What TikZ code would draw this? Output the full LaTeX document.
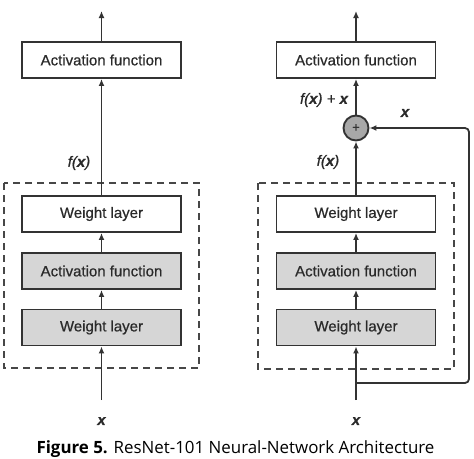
\documentclass[tikz,border=0pt]{standalone}
\usepackage{fontspec}
\setmainfont{Liberation Sans}[FakeBold=0.6]
\newfontfamily\capfont{Open Sans}
\usetikzlibrary{arrows.meta}
\definecolor{ink}{HTML}{333333}
\definecolor{txt}{HTML}{2A2A2A}
\definecolor{boxgray}{HTML}{D6D6D6}
\definecolor{circgray}{HTML}{A8A8A8}
\tikzset{
  layer/.style={draw=ink, line width=1.9pt, minimum width=159pt, minimum height=36pt, inner sep=0pt, text=txt, font=\fontsize{15}{15}\selectfont},
  grayLayer/.style={layer, fill=boxgray},
  flow/.style={draw=ink, line width=1.8pt, -{Latex[length=7pt,width=6pt]}},
  group/.style={draw=ink!90, line width=2pt, dash pattern=on 7pt off 5pt},
  lab/.style={text=txt, font=\fontsize{15}{15}\selectfont\itshape, inner sep=0pt},
}
\newcommand{\bx}{\textbf{\textit{x}}}
\begin{document}
\begin{tikzpicture}[x=1pt,y=-1pt]
\useasboundingbox (0,0) rectangle (474,458);
% left column
\draw[group] (4,183) rectangle (199,368);
\node[layer] (lact) at (101.5,60) {Activation function};
\node[layer] (lw2) at (101.5,214) {Weight layer};
\node[grayLayer] (la) at (101.5,271) {Activation function};
\node[grayLayer] (lw1) at (101.5,327.5) {Weight layer};
\coordinate (lin) at (101.5,400);
\coordinate (lout) at (101.5,11);
\node[lab] (lx) at (101.5,421) {\bx};
\node[lab] (lf) at (79,163) {f(\bx)};
\draw[flow] (lin) -- (lw1);
\draw[flow] (lw1) -- (la);
\draw[flow] (la) -- (lw2);
\draw[flow] (lw2) -- (lact);
\draw[flow] (lact) -- (lout);
% right column
\draw[group] (258,183) rectangle (454,369);
\node[layer] (ract) at (356,60) {Activation function};
\node[layer] (rw2) at (356,214) {Weight layer};
\node[grayLayer] (ra) at (356,271) {Activation function};
\node[grayLayer] (rw1) at (356,327.5) {Weight layer};
\node[circle, draw=ink, line width=1.9pt, fill=circgray, minimum size=25pt, inner sep=0pt, text=ink, font=\fontsize{13}{13}\selectfont] (plus) at (356,128) {+};
\coordinate (rin) at (356,400);
\coordinate (rout) at (356,11);
\coordinate (split) at (356,383);
\coordinate (c1) at (469,383);
\coordinate (c2) at (469,128);
\node[lab] (rx) at (356,421) {\bx};
\node[lab] (rf) at (328,162) {f(\bx)};
\node[lab] (rfx) at (324,100) {f(\bx) + \bx};
\node[lab] (sx) at (405,113) {\bx};
\draw[flow] (rin) -- (rw1);
\draw[flow] (rw1) -- (ra);
\draw[flow] (ra) -- (rw2);
\draw[flow] (rw2) -- (plus);
\draw[flow] (plus) -- (ract);
\draw[flow] (ract) -- (rout);
\draw[flow, rounded corners=4pt] (split) -- (c1) -- (c2) -- (plus);
% caption
\node[text=black, font=\capfont\fontsize{16.9}{17}\selectfont, inner sep=0pt, anchor=base] (cap) at (235.5,453) {\textbf{Figure 5.} ResNet-101 Neural-Network Architecture};
\end{tikzpicture}
\end{document}
